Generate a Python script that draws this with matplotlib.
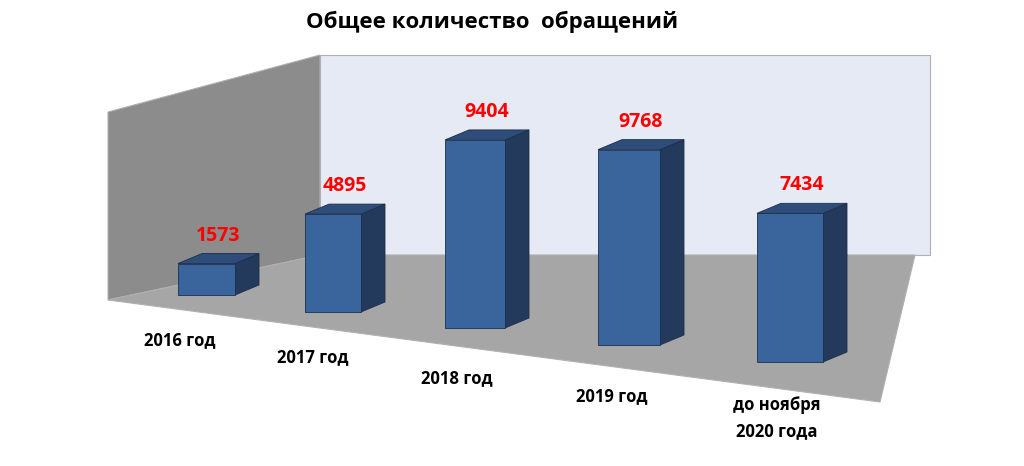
import matplotlib.pyplot as plt
from matplotlib.patches import Polygon

categories = ['2016 год', '2017 год', '2018 год', '2019 год', 'до ноября\n2020 года']
values = [1573, 4895, 9404, 9768, 7434]

# pseudo-3D layout (pixel space)
bar_left = [178, 305, 445, 598, 757]
bar_bottom = [295, 312, 328, 345, 362]
bar_width = [57, 56, 60, 62, 66]
label_pos = [(180, 340), (313, 357), (457, 378), (612, 396), (777, 418)]
scale = 0.02
dx, dy = 24, 10

plt.rcParams['font.family'] = ['Open Sans', 'DejaVu Sans']
fig = plt.figure(figsize=(10.24, 4.66), dpi=100)
ax = fig.add_axes([0, 0, 1, 1])
ax.set_xlim(0, 1024)
ax.set_ylim(466, 0)
ax.axis('off')

# walls and floor
ax.add_patch(Polygon([(320, 55), (930, 55), (930, 255), (320, 255)], fc='#e6eaf4', ec='#b0b0b0', lw=0.8))
ax.add_patch(Polygon([(108, 112), (320, 55), (320, 255), (108, 300)], fc='#8c8c8c', ec='#b0b0b0', lw=0.8))
ax.add_patch(Polygon([(108, 300), (320, 255), (915, 255), (880, 402)], fc='#a6a6a6', ec='#b0b0b0', lw=0.8))

for v, x, b, w, lab, (lx, ly) in zip(values, bar_left, bar_bottom, bar_width, categories, label_pos):
    h = v * scale
    t = b - h
    ax.add_patch(Polygon([(x + w, b), (x + w + dx, b - dy), (x + w + dx, t - dy), (x + w, t)],
                         fc='#243a5c', ec='#1c2e4a', lw=0.6))
    ax.add_patch(Polygon([(x, t), (x + dx, t - dy), (x + w + dx, t - dy), (x + w, t)],
                         fc='#2f4d7a', ec='#1c2e4a', lw=0.6))
    ax.add_patch(Polygon([(x, b), (x + w, b), (x + w, t), (x, t)],
                         fc='#3a649c', ec='#1c2e4a', lw=0.6))
    ax.text(x + w / 2 + dx / 2, t - dy - 18, str(v), color='#ff0000', fontsize=14,
            fontweight='bold', ha='center', va='center')
    ax.text(lx, ly, lab, fontsize=12, fontweight='bold', ha='center', va='center', linespacing=1.6)

ax.text(492, 22, 'Общее количество  обращений', fontsize=16, fontweight='bold', ha='center', va='center')

fig.savefig('out.png', dpi=100)
